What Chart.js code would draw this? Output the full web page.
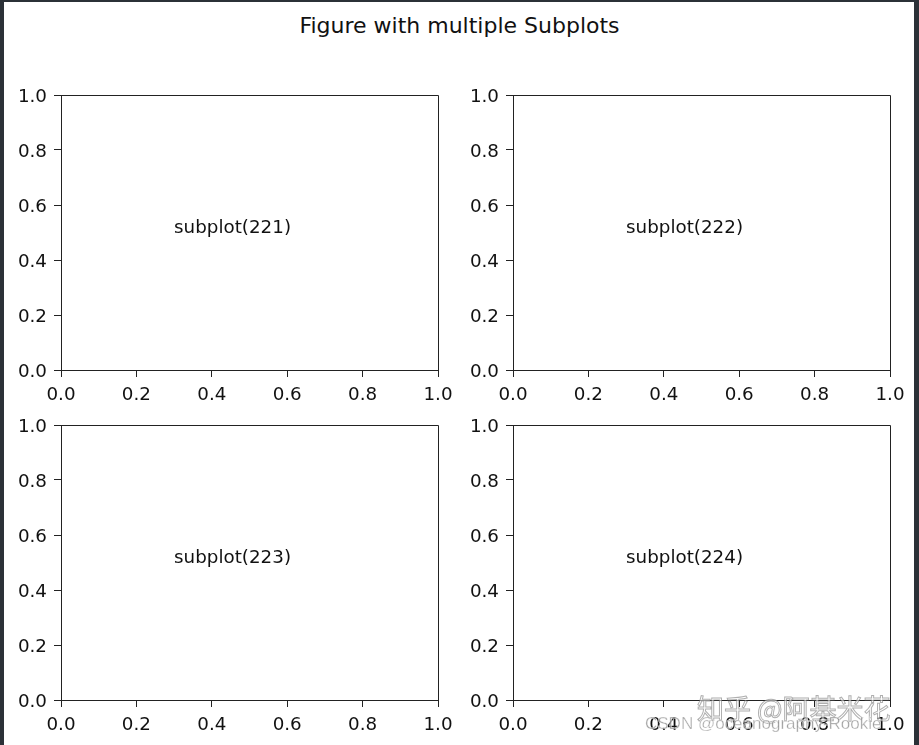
<!DOCTYPE html>
<html>
<head>
<meta charset="utf-8">
<script src="https://cdn.jsdelivr.net/npm/chart.js@4"></script>
<style>
body { margin: 0; width: 919px; height: 745px; overflow: hidden; background: #2b3137; position: relative; }
#fig { position: absolute; left: 4px; top: 2px; width: 910px; height: 743px; background: #fff; }
canvas { position: absolute; }
#title { position: absolute; left: 0; width: 919px; top: 15px; text-align: center;
  font: 22px/22px "DejaVu Sans"; color: #111; }
#wm1 { position: absolute; left: 697px; top: 693px; font: 27px/30px "Noto Sans CJK SC";
  color: rgba(255,255,255,0.55); -webkit-text-stroke: 1px rgba(110,110,110,0.55); white-space: nowrap; }
#wm2 { position: absolute; left: 645px; top: 714px; font: 17px/20px "Liberation Sans";
  color: rgba(130,130,130,0.8); -webkit-text-stroke: 0.6px rgba(255,255,255,0.7); white-space: nowrap; }
</style>
</head>
<body>
<div id="fig"></div>
<div id="title">Figure with multiple Subplots</div>
<canvas id="c221" width="453" height="330" style="left:0px;top:80px"></canvas>
<canvas id="c222" width="453" height="330" style="left:452px;top:80px"></canvas>
<canvas id="c223" width="453" height="330" style="left:0px;top:410px"></canvas>
<canvas id="c224" width="453" height="330" style="left:452px;top:410px"></canvas>
<div id="wm1">知乎 @阿基米花</div>
<div id="wm2">CSDN @oceanography-Rookie</div>
<script>
const subplotIds = ['c221', 'c222', 'c223', 'c224'];
const subplotLabels = ['subplot(221)', 'subplot(222)', 'subplot(223)', 'subplot(224)'];
const tickValues = [0, 0.2, 0.4, 0.6, 0.8, 1.0];
const tickLabels = ['0.0', '0.2', '0.4', '0.6', '0.8', '1.0'];
const textX = 0.3;
const textY = 0.5;

const lineColor = '#222';
const fontSpec = { family: 'DejaVu Sans', size: 18.3 };

// draws the text label at the dataset point + the top/right spines
const subplotText = {
  id: 'subplotText',
  afterDatasetsDraw(chart) {
    const ctx = chart.ctx;
    const pt = chart.getDatasetMeta(0).data[0];
    const a = chart.chartArea;
    const al = p => Math.round(p - 0.5) + 0.5;
    ctx.save();
    ctx.font = fontSpec.size + 'px "' + fontSpec.family + '"';
    ctx.fillStyle = '#111';
    ctx.textAlign = 'left';
    ctx.textBaseline = 'alphabetic';
    ctx.fillText(chart.data.datasets[0].label, pt.x, pt.y);
    ctx.strokeStyle = lineColor;
    ctx.lineWidth = 1;
    ctx.beginPath();
    ctx.moveTo(al(a.left), al(a.top));
    ctx.lineTo(al(a.right), al(a.top));
    ctx.lineTo(al(a.right), al(a.bottom));
    ctx.stroke();
    ctx.restore();
  }
};

function axis(fit, offset) {
  return {
    type: 'linear',
    min: 0,
    max: 1,
    afterBuildTicks: s => { s.ticks = tickValues.map(v => ({ value: v })); },
    afterFit: fit,
    ticks: {
      callback: (v, i) => tickLabels[i],
      color: '#111',
      font: fontSpec,
      padding: 7,
      labelOffset: offset,
      maxRotation: 0,
      autoSkip: false
    },
    grid: { drawOnChartArea: false, tickLength: 7, color: lineColor, tickColor: lineColor, lineWidth: 1 },
    border: { color: lineColor, width: 1 }
  };
}

subplotIds.forEach((id, i) => {
  new Chart(document.getElementById(id), {
    type: 'scatter',
    data: {
      datasets: [{
        label: subplotLabels[i],
        data: [{ x: textX, y: textY }],
        pointRadius: 0
      }]
    },
    options: {
      responsive: false,
      animation: false,
      devicePixelRatio: 1,
      layout: { padding: { top: 15, right: 15, left: 0, bottom: 0 } },
      plugins: { legend: { display: false }, tooltip: { enabled: false } },
      scales: {
        x: axis(s => { s.height = 40; s.paddingLeft = 0; s.paddingRight = 0; }, 0),
        y: axis(s => { s.width = 61; s.paddingTop = 0; s.paddingBottom = 0; }, 2)
      }
    },
    plugins: [subplotText]
  });
});
</script>
</body>
</html>
